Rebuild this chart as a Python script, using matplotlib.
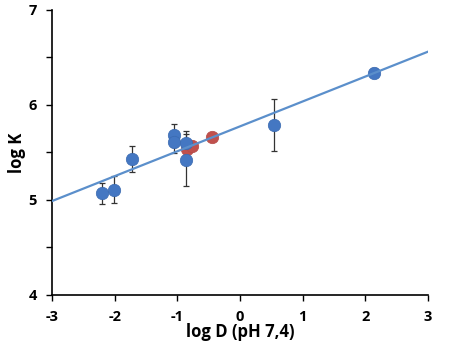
import matplotlib
matplotlib.use("Agg")
import matplotlib.pyplot as plt
import numpy as np

plt.rcParams['font.family'] = ['Open Sans', 'DejaVu Sans']

# Blue data points (log D, log K, error)
blue_x = [-2.20, -2.02, -1.72, -1.05, -1.05, -0.86, -0.86, 0.54, 2.14]
blue_y = [5.07, 5.11, 5.43, 5.68, 5.61, 5.60, 5.42, 5.79, 6.34]
blue_err = [0.11, 0.14, 0.14, 0.12, 0.12, 0.13, 0.27, 0.27, 0.05]

# Red data points
red_x = [-0.84, -0.76, -0.45]
red_y = [5.54, 5.57, 5.66]

# Regression line
line_x = [-3, 3]
slope = 0.262
intercept = 5.775

xticks = [-3, -2, -1, 0, 1, 2, 3]
yticks = [4, 5, 6, 7]

fig = plt.figure(figsize=(4.74, 3.43), dpi=100)
ax = fig.add_axes([0.11, 0.14, 0.793, 0.831])

ax.scatter(red_x, red_y, s=80, color='#C0504D', zorder=2, edgecolors='#B54A47', linewidths=0.5)
ax.errorbar(blue_x, blue_y, yerr=blue_err, fmt='none', ecolor='#333333', elinewidth=0.9,
            capsize=2.5, capthick=0.9, zorder=1)
ax.scatter(blue_x, blue_y, s=80, color='#4477C2', zorder=3, edgecolors='#3A6AB0', linewidths=0.5)
lx = np.array(line_x, dtype=float)
ax.plot(lx, slope * lx + intercept, color='#5B8FCB', lw=1.6, zorder=4)

ax.set_xlim(-3, 3)
ax.set_ylim(4, 7)
ax.set_xticks(xticks)
ax.set_yticks(yticks)
ax.set_yticks([4.5, 5.5, 6.5], minor=True)
ax.set_xticklabels([str(t) for t in xticks], fontweight='bold', fontsize=10.5)
ax.set_yticklabels([str(t) for t in yticks], fontweight='bold', fontsize=10.5)
ax.tick_params(axis='both', which='both', direction='out', length=4, width=1, color='black')
ax.tick_params(axis='y', which='major', pad=7)
ax.tick_params(axis='x', which='major', pad=7)
ax.spines['top'].set_visible(False)
ax.spines['right'].set_visible(False)
ax.spines['left'].set_linewidth(1.2)
ax.spines['bottom'].set_linewidth(1.2)

ax.set_xlabel('log D (pH 7,4)', fontweight='bold', fontsize=12, labelpad=-1)
ax.set_ylabel('log K', fontweight='bold', fontsize=12, labelpad=2)

fig.savefig('out.png', dpi=100)
